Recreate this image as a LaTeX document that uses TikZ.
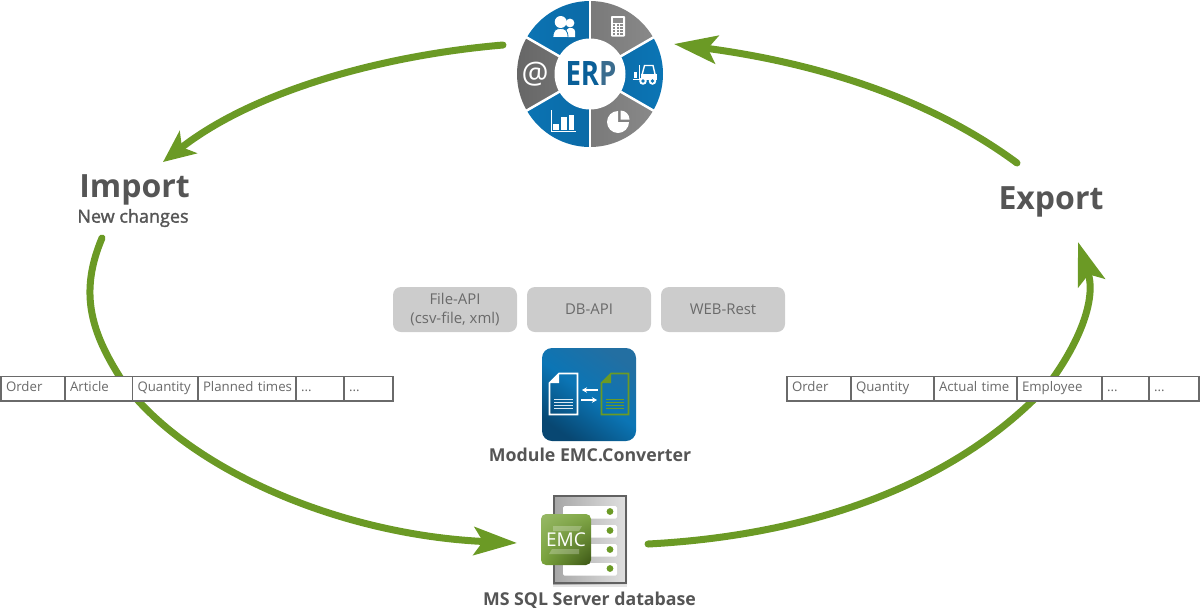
\documentclass[tikz,border=0pt]{standalone}
\usepackage{fontspec}
\setmainfont{Open Sans}
\newfontfamily\semibold[FakeBold=1.6]{Open Sans}
\usetikzlibrary{arrows.meta,shadings}
\definecolor{arrowgreen}{HTML}{6B9A25}
\definecolor{txt}{HTML}{555555}
\definecolor{celltxt}{HTML}{6A6A6A}
\definecolor{blueA}{HTML}{0A5F98}
\definecolor{blueB}{HTML}{0B75B5}
\definecolor{greyA}{HTML}{666666}
\definecolor{greyB}{HTML}{8C8C8C}
\definecolor{erpP}{HTML}{3A6C8E}
\tikzset{
  x=1pt,y=-1pt,
  flow/.style={draw=arrowgreen,line width=7pt,line cap=round},
  headlong/.style={-{Stealth[length=43pt,width=28pt,inset=9pt]}},
  headshort/.style={-{Stealth[length=32pt,width=28pt,inset=8pt]}},
  cell/.style={draw=celltxt,fill=white,line width=1.5pt,anchor=north west,minimum height=24.5pt,outer sep=0pt,
     inner xsep=5pt,inner ysep=0pt,align=left,font=\fontsize{13.25}{15}\selectfont,text=celltxt},
  apibox/.style={fill=black!20,rounded corners=8pt,minimum width=124pt,minimum height=45pt,inner sep=0pt,outer sep=0pt,
     align=center,font=\fontsize{14.9}{19}\selectfont,text=celltxt,anchor=north west},
  bigtitle/.style={font=\bfseries\fontsize{32}{36}\selectfont,text=txt},
  sublabel/.style={font=\bfseries\fontsize{17.75}{20}\selectfont,text=txt},
}
\newcommand{\mycell}[4]{\node[cell,text width=#3pt-10pt] (#1) at (#2,376.5) {\strut\mbox{#4}};}
\newcommand{\erpsector}[3]{%
  \begin{scope}
    \clip (590,74) ++(-#1:73) arc[start angle=-#1,end angle=-#2,radius=73] -- (590,74) -- cycle;
    \shade[#3] (515,0) rectangle (665,150);
  \end{scope}}
\begin{document}
\begin{tikzpicture}
\useasboundingbox (0,0) rectangle (1200,611);
% coordinates that carry the free ends of the connectors
\coordinate (erpOut) at (503,45);
\coordinate (importIn) at (163,162);
\coordinate (importOut) at (102,238);
\coordinate (sqlIn) at (517,543);
\coordinate (sqlOut) at (648,544);
\coordinate (exportIn) at (1078,242);
\coordinate (exportOut) at (1017,163);
\coordinate (erpIn) at (674,44);
% connectors
\draw[flow,headshort] (erpOut) .. controls (385,55) and (255,90) .. (importIn);
\draw[flow,headlong] (importOut) .. controls (78,295) and (92,335) .. (125,385)
   .. controls (190,470) and (340,535) .. (sqlIn);
\draw[flow,headlong] (sqlOut) .. controls (820,535) and (960,480) .. (1048,385)
   .. controls (1078,345) and (1097,300) .. (exportIn);
\draw[flow,headlong] (exportOut) .. controls (925,95) and (810,62) .. (erpIn);
% ERP wheel
\erpsector{90}{150}{left color=blueB,right color=blueA}
\erpsector{30}{90}{left color=greyA,right color=greyB}
\erpsector{-30}{30}{left color=blueA,right color=blueB}
\erpsector{-90}{-30}{left color=greyA,right color=greyB}
\erpsector{-150}{-90}{left color=blueB,right color=blueA}
\erpsector{150}{210}{left color=greyA,right color=greyB}
\foreach \a in {90,30,-30,-90,-150,150}
  \draw[white,line width=2.5pt] (590,74) -- ++(-\a:74);
\fill[white] (590,74) circle[radius=35.5];
\node[inner sep=0pt,xscale=.82,text=blueA,font=\bfseries\fontsize{33.6}{36}\selectfont] (erp) at (591,74) {ER\textcolor{erpP}{P}};
% people icon
\fill[white] (570,23) circle[radius=4.4];
\fill[white] (565,37) .. controls (567,30) and (566,28) .. (569,28) -- (572,28) .. controls (576,29) and (575,33) .. (575,37) -- cycle;
\fill[white] (560.7,22) circle[radius=6];
\draw[blueB,line width=.8pt,fill=white] (553,37.5) .. controls (553,30) and (556,28.5) .. (560.5,28.5) .. controls (565,28.5) and (568,30) .. (568,37.5) -- cycle;
% calculator icon
\fill[white,rounded corners=.8pt] (611,16) rectangle (625,36.5);
\fill[greyB] (612.6,18) rectangle (623.4,22.5);
\foreach \i in {0,1,2} \foreach \j in {0,1,2,3}
  \fill[greyB] ({612.8+\i*3.8},{24+\j*3}) rectangle ++(2.6,2);
% forklift icon
\fill[white] (633.5,72) rectangle (637,78);
\draw[white,line width=1pt] (633,79.5) -- (639,79.5) -- (639,65);
\draw[white,line width=1.4pt] (642,75) -- (644.5,65.5) -- (653,65.5) -- (655,74);
\fill[white] (641,74) -- (656.5,74) -- (656.5,80) -- (641,80) -- cycle;
\foreach \xx in {643,652.5}{
  \fill[white] (\xx,81) circle[radius=3.8];
  \fill[blueB] (\xx,81) circle[radius=1.8];}
% pie icon
\fill[white] (618,122) -- (618,111) arc[start angle=-90,end angle=-360,radius=11] -- cycle;
\fill[white] (620.5,119.5) -- (620.5,110.5) arc[start angle=-90,end angle=0,radius=9] -- cycle;
% bars icon
\draw[white,line width=.8pt] (551,110) -- (551,131) -- (576,131);
\fill[white] (553,124) rectangle (559,130);
\fill[white] (561,117) rectangle (566.5,130);
\fill[white] (568.5,115) rectangle (574,130);
% at icon
\node[inner sep=0pt,text=white,font=\fontsize{30}{32}\selectfont] (at-icon) at (535,74) {@};
% titles
\node[bigtitle,inner sep=0pt] (import) at (134.5,190) {Import};
\node[font=\semibold\fontsize{18}{20}\selectfont,text=txt,inner sep=0pt] (changes) at (133,218) {New changes};
\node[bigtitle,inner sep=0pt] (export) at (1051,202) {Export};
% tables
\mycell{la}{1}{64}{Order}
\mycell{lb}{65}{67.5}{Article}
\mycell{lc}{132.5}{65.5}{Quantity}
\mycell{ld}{198}{98}{Planned times}
\mycell{le}{296}{48}{...}
\mycell{lf}{344}{49}{...}
\mycell{ra}{787}{64}{Order}
\mycell{rb}{851}{83}{Quantity}
\mycell{rc}{934}{83}{Actual time}
\mycell{rd}{1017}{85}{Employee}
\mycell{re}{1102}{47}{...}
\mycell{rf}{1149}{50}{...}
% API boxes
\node[apibox] (fileapi) at (393,287) {\raisebox{-2pt}{File-API}\\\raisebox{-2pt}{(csv-file, xml)}};
\node[apibox] (dbapi) at (527,287) {DB-API};
\node[apibox] (webrest) at (661,287) {WEB-Rest};
% converter module
\shade[rounded corners=10pt,left color=blueA!90!white,right color=blueA!75!black,middle color=blueB,shading angle=-35] (542,348) rectangle (636,441);
\draw[white,line width=1.6pt,line join=miter] (559,373.5) -- (577.5,373.5) -- (577.5,414.5) -- (549.5,414.5) -- (549.5,383) -- cycle;
\fill[white] (549.5,383) -- (559,373.5) -- (559,383) -- cycle;
\foreach \yy in {399.5,402.5,405.5,408.5} \draw[white!85!blueB,line width=1pt] (554,\yy) -- (573,\yy);
\draw[arrowgreen,line width=1.6pt,line join=miter] (611,373.5) -- (628.5,373.5) -- (628.5,414.5) -- (601.5,414.5) -- (601.5,383) -- cycle;
\fill[arrowgreen] (601.5,383) -- (611,373.5) -- (611,383) -- cycle;
\foreach \yy in {399.5,402.5,405.5,408.5} \draw[arrowgreen,line width=1pt] (606,\yy) -- (624,\yy);
\draw[white,line width=1.3pt,-{Stealth[length=5pt,width=5.5pt]}] (598,390) -- (582,390);
\draw[white,line width=1.3pt,-{Stealth[length=5pt,width=5.5pt]}] (581,400) -- (597,400);
\node[sublabel,inner sep=0pt] (module) at (590,455) {Module EMC.Converter};
% database icon
\fill[black!10] (553,582) rectangle (627,587);
\shade[left color=black!35,right color=black!12,draw=none] (553,495) rectangle (627,584);
\draw[black!62,line width=2.5pt] (554,496) rectangle (626,583);
\foreach \yy in {506,525,544,563}{
  \fill[white,rounded corners=1.5pt] (563,\yy) rectangle (617,\yy+12.5);
  \fill[arrowgreen] (610,\yy+5.5) circle[radius=3.4];}
\shade[rounded corners=5pt,upper left=arrowgreen!70!white,upper right=arrowgreen!85!white,lower left=arrowgreen!90!white,lower right=arrowgreen!55!black] (541,514) rectangle (591,565);
\fill[white,opacity=.25] (553,526) -- (582,526) -- (579,531) -- (553,531) -- cycle;
\fill[white,opacity=.25] (552,549) -- (579,549) -- (579,554) -- (549,554) -- cycle;
\node[inner sep=0pt,text=white,font=\fontsize{19}{20}\selectfont] (emc) at (566,540) {EMC};
\node[sublabel,inner sep=0pt] (sql) at (589.5,600) {MS SQL Server database};
\end{tikzpicture}
\end{document}
